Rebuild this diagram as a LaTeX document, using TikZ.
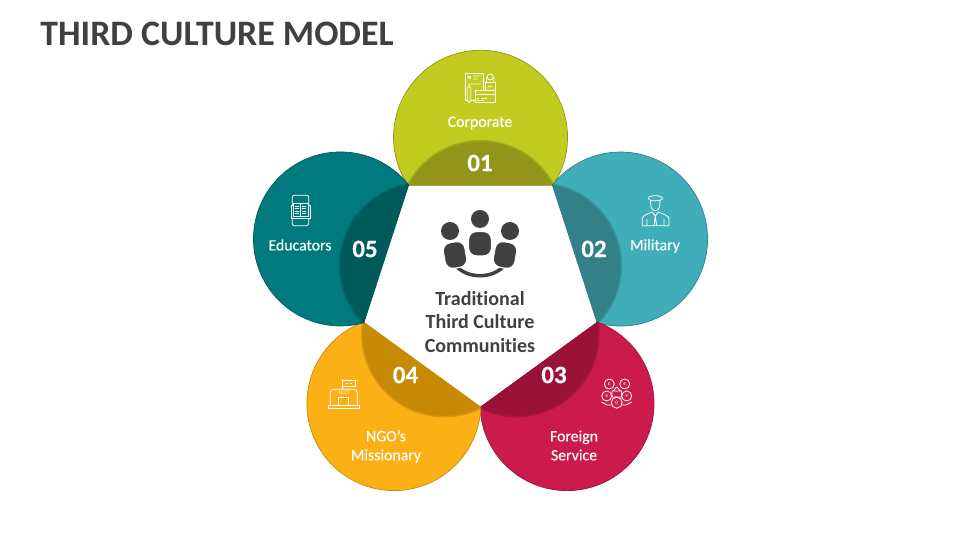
\documentclass[tikz,border=0pt]{standalone}
\usepackage{fontspec}
\setmainfont[Ligatures=NoCommon]{Carlito}
\newfontfamily\labelfont[FakeBold=0.25,Ligatures=NoCommon]{Carlito}
\newfontfamily\numfont[FakeBold=0.3,BoldFont=*]{Carlito Bold}
\definecolor{olive}{HTML}{C1CB20}
\definecolor{olivedk}{HTML}{92951A}
\definecolor{sky}{HTML}{40AEB8}
\definecolor{skydk}{HTML}{338089}
\definecolor{crimson}{HTML}{CB1B4B}
\definecolor{crimsondk}{HTML}{9A1238}
\definecolor{amber}{HTML}{FBB116}
\definecolor{amberdk}{HTML}{C68A05}
\definecolor{teal2}{HTML}{007A7C}
\definecolor{teal2dk}{HTML}{005A5C}
\definecolor{ink}{HTML}{404040}
\tikzset{
  label/.style={text=white,align=center,font=\labelfont\fontsize{9}{10.8}\selectfont},
  num/.style={text=white,font=\numfont\fontsize{14.2}{16}\selectfont},
  icon/.style={draw=white,line width=0.45pt,line join=round},
  tiny/.style={text=white,inner sep=0pt,font=\fontsize{3}{3}\selectfont},
  body/.style={fill=ink,draw=white,line width=0.7pt,rounded corners=1.6mm}
}
\begin{document}
\begin{tikzpicture}[x=0.02cm,y=0.02cm]
    \useasboundingbox (0,0) rectangle (960,540);
    % petals
    \foreach \ang/\col/\dk in {0/olive/olivedk,-72/sky/skydk,-144/crimson/crimsondk,-216/amber/amberdk,-288/teal2/teal2dk} {
        \begin{scope}[shift={(480.5,255.5)},rotate=\ang]
            \draw[fill=\col,draw=\dk,line width=0.4pt] (72.5,99.1) arc[start angle=-33.6,end angle=213.6,radius=87] -- cycle;
            \draw[black,opacity=0.15,line width=1.8pt] (72.5,99.1) arc[start angle=27.5,end angle=152.5,radius=81.7];
            \fill[\dk] (72.5,99.1) arc[start angle=27.5,end angle=152.5,radius=81.7] -- cycle;
        \end{scope}
    }
    \begin{scope}[shift={(0,540)},yscale=-1]
        \node[anchor=west,inner sep=0pt,text=ink,font=\bfseries\fontsize{20.4}{22}\selectfont] (title) at (40,34) {THIRD CULTURE MODEL};
        \node[text=ink,align=center,font=\bfseries\fontsize{11.4}{13.6}\selectfont] (center) at (480,322) {Traditional\\Third Culture\\Communities};
        \node[label] (corporate) at (480,123) {Corporate};
        \node[label] (military) at (655,246) {Military};
        \node[label] (foreign) at (574,445.5) {Foreign\\Service};
        \node[label] (ngo) at (386,446.5) {NGO’s\\Missionary};
        \node[label] (educators) at (300,245) {Educators};
        \node[num] (n1) at (480,163) {01};
        \node[num] (n2) at (594,249) {02};
        \node[num] (n3) at (554,375) {03};
        \node[num] (n4) at (405.5,375) {04};
        \node[num] (n5) at (365,249) {05};
        % people
        \draw[ink,line width=2pt] (456,266) .. controls (468,279) and (492,279) .. (504,266);
        \fill[ink] (480,219) circle (9) (450,231) circle (9) (510,231) circle (9);
        \draw[body,rotate around={-10:(455,255)}] (444,242) rectangle (466,268);
        \draw[body,rotate around={10:(505,255)}] (494,242) rectangle (516,268);
        \draw[body] (468.5,231.5) rectangle (491.5,256);
        % corporate
        \draw[icon] (465.3,73.3) rectangle (483.3,100.7);
        \draw[icon] (469.3,77.3) circle (1.6) (473,76) -- (481,76) (473,79) -- (478,79) (468,84) -- (481,84);
        \draw[icon,fill=olive] (467.3,88) -- (469,85.5) -- (470.7,88) -- (470.7,100) -- (469,102.7) -- (467.3,100) -- cycle;
        \draw[icon,fill=olive] (475.3,90.7) rectangle (495,102.7);
        \draw[icon] (475.3,94) -- (495,94) (477,98) -- (479,98) (481,98) -- (487,98) (477,100.5) -- (484,100.5);
        \draw[icon] (485.3,82.3) rectangle (495,90) (488,86) -- (492,86);
        \draw[icon] (490.3,77) circle (3) (486.5,82.3) -- (486.5,78) (494,82.3) -- (494,78);
        % military
        \draw[icon] (655.3,198.3) ellipse (7 and 2.6);
        \draw[icon] (650.5,201) -- (651,207) .. controls (652,212) and (658.5,212) .. (659.5,207) -- (660,201);
        \draw[icon] (642.3,225.7) -- (642.3,219) .. controls (642.5,216) and (645,215) .. (652,212) -- (655.3,216) -- (658.5,212) .. controls (665.5,215) and (668.8,216) .. (669,219) -- (669,225.7) -- cycle;
        \draw[icon] (655.3,216) -- (654,225.7) (655.3,216) -- (656.6,225.7) (647,219) -- (647,225.7) (664,219) -- (664,225.7);
        % foreign service
        \draw[icon] (609.3,384) circle (5) (624.7,384) circle (5) (606.7,396) circle (5) (626.7,396) circle (5) (616.7,402.7) circle (5.5);
        \draw[icon] (612,391) rectangle (621.5,397) (613,391) -- (616.7,387) -- (620.5,391);
        \draw[icon] (601.5,402) -- (607,405) -- (611,405) (631.8,402) -- (626,405) -- (622,405);
        \node[tiny] (pound) at (609.3,384) {£};
        \node[tiny] (euro) at (624.7,384) {€};
        \node[tiny] (dollar) at (606.7,396) {\$};
        \node[tiny] (yen) at (626.7,396) {¥};
        \node[tiny] (zero) at (616.7,402.7) {0};
        % ngo
        \draw[icon] (328.3,405) rectangle (359,408.3);
        \draw[icon] (330.3,405) -- (330.3,393) .. controls (330.3,390.5) and (331.5,389.3) .. (334,389.3) -- (353.5,389.3) .. controls (356,389.3) and (357.3,390.5) .. (357.3,393) -- (357.3,405);
        \draw[icon] (338.7,405) -- (338.7,397.3) -- (348.7,397.3) -- (348.7,405);
        \draw[icon] (342.7,389.3) -- (342.7,379.3) (342.7,380) rectangle (355,386.7) (346,383.3) -- (347.5,383.3) (349.5,383.3) -- (351.5,383.3);
        \node[tiny] (ngosign) at (343.7,393.3) {NGO};
        % educators
        \draw[icon,rounded corners=0.4mm] (292.3,195.3) rectangle (308.7,225.7);
        \draw[icon,fill=teal2] (291,205) rectangle (310,218.3);
        \draw[icon,fill=teal2] (293,203.3) rectangle (300.5,216.5) (300.5,203.3) rectangle (308,216.5);
        \foreach \y in {206,208.5,211,213.5} {
            \draw[icon,line width=0.35pt] (295,\y) -- (299,\y) (302,\y) -- (306,\y);
        }
    \end{scope}
\end{tikzpicture}
\end{document}
